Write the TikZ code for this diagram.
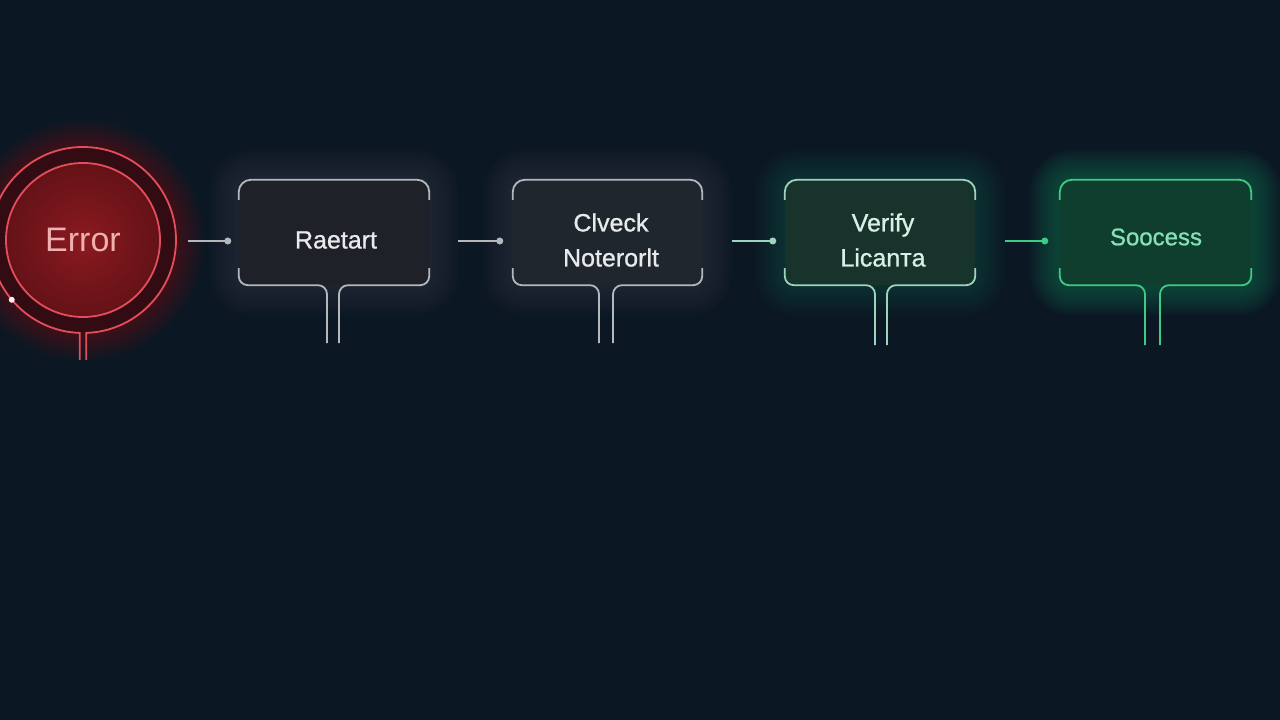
\documentclass[tikz,border=0pt]{standalone}
\usepackage{fontspec}
\setmainfont{Liberation Sans}
\newfontfamily\medfont[FakeBold=0.9]{Liberation Sans}
\usetikzlibrary{calc}
\definecolor{bg}{HTML}{0B1824}
\definecolor{errin}{HTML}{8A1A20}
\definecolor{errout}{HTML}{641217}
\definecolor{errring}{HTML}{330C13}
\definecolor{errstroke}{HTML}{E44E5C}
\definecolor{errglow}{HTML}{3E0F17}
\definecolor{errtext}{HTML}{F0B0B0}
\definecolor{graystroke}{HTML}{B4B8BC}
\definecolor{grayglow}{HTML}{4A5058}
\definecolor{restartfill}{HTML}{1E2228}
\definecolor{checkfill}{HTML}{20262D}
\definecolor{verifystroke}{HTML}{9ED4BE}
\definecolor{verifyfill}{HTML}{17332C}
\definecolor{verifyglow}{HTML}{1E5A48}
\definecolor{verifytext}{HTML}{DAF0E6}
\definecolor{successstroke}{HTML}{3DCB86}
\definecolor{successfill}{HTML}{0F3E2F}
\definecolor{successglow}{HTML}{17684C}
\definecolor{successtext}{HTML}{86E2B6}
\definecolor{whitetext}{HTML}{E8EAEC}
\pgfdeclareradialshading{redhalo}{\pgfpoint{0bp}{0bp}}{color(0bp)=(errglow); color(19bp)=(errglow); color(25bp)=(bg); color(50bp)=(bg)}
\newcommand\boxglow[6]{\foreach \i [evaluate=\i as \r using 12+2.5*\i] in {12,11,...,1}{\fill[#5,opacity=#6,rounded corners=\r pt] ({#1-\i*2.5},{#2-\i*2.5}) rectangle ({#3+\i*2.5},{#4+\i*2.5});}}
\newcommand\brackets[5]{%
  \draw[#5,rounded corners=12pt] ($(#1.north west)+(0,-20)$) -- (#1.north west) -- (#1.north east) -- ($(#1.north east)+(0,-20)$);
  \draw[#5,rounded corners=9pt] ($(#1.south west)+(0,17)$) -- (#1.south west) -- ($(#1.south)+(#2,0)$) -- ($(#1.south)+(#2,-#4)$);
  \draw[#5,rounded corners=9pt] ($(#1.south east)+(0,17)$) -- (#1.south east) -- ($(#1.south)+(#3,0)$) -- ($(#1.south)+(#3,-#4)$);}
\tikzset{
  boxfill/.style={rectangle,rounded corners=12pt,minimum width=190pt,minimum height=105pt,inner sep=0pt,draw=none},
  lbl/.style={font=\medfont\fontsize{25}{35}\selectfont,align=center,inner sep=0pt},
  conn/.style={line width=1.6pt},
  dot/.style={circle,inner sep=0pt,minimum size=7pt},
  stroke/.style={line width=1.8pt}
}
\begin{document}
\begin{tikzpicture}[x=1pt,y=1pt]
\fill[bg] (0,0) rectangle (1280,720);
\useasboundingbox (0,0) rectangle (1280,720);
% error glow and rings
\shade[shading=redhalo] (83,480) circle (122);
\fill[errring] (83,480) circle (93);
\node[circle,minimum size=154pt,inner sep=0pt,inner color=errin,outer color=errout,draw=errstroke,line width=1.8pt,text=errtext,font=\fontsize{34}{40}\selectfont] (error) at (83,480) {Error};
\draw[errstroke,stroke] (79.75,360) -- (79.75,387.06) arc[start angle=-92,delta angle=-356,radius=93] -- (86.25,360);
\node[dot,fill=white!90!errstroke,minimum size=6pt] (errdot) at ({83+93*cos(220)},{480+93*sin(220)}) {};
% glows
\boxglow{239}{435}{429}{540}{grayglow}{0.035}
\boxglow{513}{435}{702}{540}{grayglow}{0.035}
\boxglow{785}{435}{975}{540}{verifyglow}{0.045}
\boxglow{1060}{435}{1251}{540}{successglow}{0.07}
% boxes
\node[boxfill,fill=restartfill] (restartbox) at (334,487.5) {};
\node[boxfill,fill=checkfill,minimum width=189pt] (checkbox) at (607.5,487.5) {};
\node[boxfill,fill=verifyfill] (verifybox) at (880,487.5) {};
\node[boxfill,fill=successfill,minimum width=191pt] (successbox) at (1155.5,487.5) {};
\brackets{restartbox}{-7}{5}{58}{graystroke,stroke}
\brackets{checkbox}{-8.5}{5.5}{58}{graystroke,stroke}
\brackets{verifybox}{-5}{7}{60}{verifystroke,stroke}
\brackets{successbox}{-10.5}{4.5}{60}{successstroke,stroke}
% labels
\node[lbl,text=whitetext] (restart) at ($(restartbox.center)+(2,-7.5)$) {Raetart};
\node[lbl,text=whitetext] (check) at ($(checkbox.center)+(3.5,-7.5)$) {Clveck\\Noterorlt};
\node[lbl,text=verifytext] (verify) at ($(verifybox.center)+(3,-7.5)$) {Verify\\Licanтa};
\node[lbl,text=successtext,font=\medfont\fontsize{24}{30}\selectfont] (success) at ($(successbox.center)+(0.5,-4.5)$) {Soocess};
% connectors
\draw[conn,graystroke] ($(error.east)+(27,-1)$) -- ($(restartbox.west)+(-11,-8.5)$) node[dot,fill=graystroke] (d1) {};
\draw[conn,graystroke] ($(restartbox.east)+(29,-8.5)$) -- ($(checkbox.west)+(-13,-8.5)$) node[dot,fill=graystroke] (d2) {};
\draw[conn,verifystroke] ($(checkbox.east)+(30,-8.5)$) -- ($(verifybox.west)+(-12,-8.5)$) node[dot,fill=verifystroke] (d3) {};
\draw[conn,successstroke] ($(verifybox.east)+(30,-8.5)$) -- ($(successbox.west)+(-15,-8.5)$) node[dot,fill=successstroke] (d4) {};
\end{tikzpicture}
\end{document}
